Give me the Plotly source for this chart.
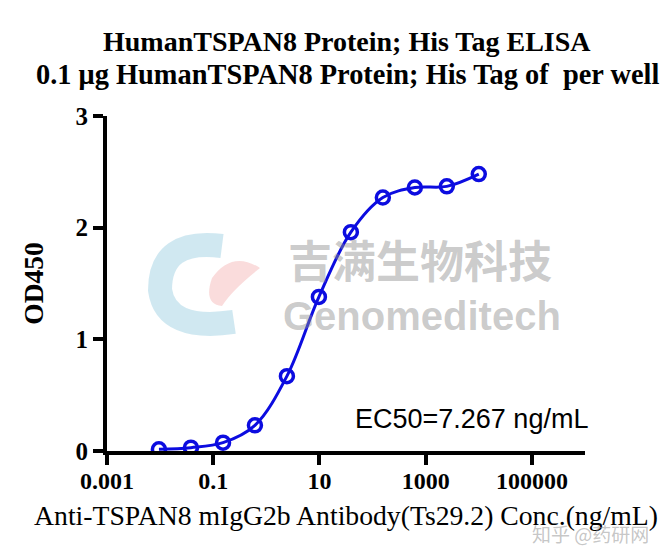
import plotly.graph_objects as go

# ---- data ----
conc_ng_ml = [0.0095, 0.038, 0.153, 0.61, 2.44, 9.77, 39.06, 156.25, 625, 2500, 10000]
od450 = [0.015, 0.03, 0.075, 0.23, 0.67, 1.38, 1.96, 2.27, 2.36, 2.37, 2.48]

x_tick_vals = [0.001, 0.1, 10, 1000, 100000]
x_tick_text = ["0.001", "0.1", "10", "1000", "100000"]
y_tick_vals = [0, 1, 2, 3]

title_line1 = "HumanTSPAN8 Protein; His Tag ELISA"
title_line2 = "0.1 μg HumanTSPAN8 Protein; His Tag of\u00a0 per well"
x_title = "Anti-TSPAN8 mIgG2b Antibody(Ts29.2) Conc.(ng/mL)"
y_title = "OD450"
ec50_text = "EC50=7.267 ng/mL"

SERIF = "Liberation Serif, Times New Roman, serif"
SANS = "Liberation Sans, Arial, sans-serif"
BLUE = "#0c0ce0"

fig = go.Figure()
fig.add_trace(go.Scatter(
    x=conc_ng_ml, y=od450,
    mode="lines+markers",
    line=dict(color=BLUE, width=3, shape="spline", smoothing=1.0),
    marker=dict(symbol="circle-open", size=13, color=BLUE, line=dict(color=BLUE, width=3.5)),
    showlegend=False,
))

L, R, T, B = 107, 83, 116, 105
W, H = 668, 556
pw, ph = W - L - R, H - T - B

def px(x):
    return (x - L) / pw

def py(y):
    return (H - B - y) / ph

annotations = [
    dict(text=title_line1, x=px(347), y=py(42), xref="paper", yref="paper",
         showarrow=False, xanchor="center", yanchor="middle",
         font=dict(family=SERIF, size=28, color="black", weight="bold")),
    dict(text=title_line2, x=px(347), y=py(75), xref="paper", yref="paper",
         showarrow=False, xanchor="center", yanchor="middle",
         font=dict(family=SERIF, size=28.4, color="black", weight="bold")),
    dict(text=ec50_text, x=px(471), y=py(419), xref="paper", yref="paper",
         showarrow=False, xanchor="center", yanchor="middle",
         font=dict(family=SANS, size=27, color="black")),
    # watermark
    dict(text="吉满生物科技", x=px(420), y=py(259), xref="paper", yref="paper",
         showarrow=False, xanchor="center", yanchor="middle",
         font=dict(family="Noto Sans CJK SC", size=44, color="rgba(140,140,140,0.45)", weight="bold")),
    dict(text="Genomeditech", x=px(422), y=py(316), xref="paper", yref="paper",
         showarrow=False, xanchor="center", yanchor="middle",
         font=dict(family=SANS, size=40, color="rgba(140,140,140,0.45)", weight="bold")),
    dict(text="知乎 @药研网", x=px(590), y=py(533), xref="paper", yref="paper",
         showarrow=False, xanchor="center", yanchor="middle",
         font=dict(family="Noto Sans CJK SC", size=19, color="rgba(150,150,150,0.55)")),
]

def path_px(points_cmds):
    out = []
    for item in points_cmds:
        if isinstance(item, str):
            out.append(item)
        else:
            out.append(f"{px(item[0]):.4f},{py(item[1]):.4f}")
    return " ".join(out)

shapes = [
    # faint logo: blue swirl
    dict(type="path", xref="paper", yref="paper", layer="below",
         path=path_px(["M", (222, 246), "Q", (160, 238), (160, 290), "Q", (166, 332), (234, 322)]),
         line=dict(color="rgba(150,205,225,0.45)", width=24)),
    # faint logo: pink blob
    dict(type="path", xref="paper", yref="paper", layer="below",
         path=path_px(["M", (260, 268), "Q", (232, 250), (212, 278), "Q", (203, 304), (222, 306),
                       "Q", (232, 290), (260, 268), "Z"]),
         fillcolor="rgba(240,150,150,0.33)", line=dict(width=0)),
]

fig.update_layout(
    width=W, height=H,
    margin=dict(l=L, r=R, t=T, b=B, pad=0),
    paper_bgcolor="white", plot_bgcolor="white",
    annotations=annotations, shapes=shapes,
    xaxis=dict(
        type="log", range=[-3, 6],
        tickvals=x_tick_vals, ticktext=x_tick_text,
        showgrid=False, zeroline=False,
        showline=True, linecolor="black", linewidth=4,
        ticks="outside", ticklen=10, tickwidth=4, tickcolor="black",
        ticklabelstandoff=-5,
        tickfont=dict(family=SERIF, size=24, color="black", weight="bold"),
        title=dict(text=x_title, standoff=14,
                   font=dict(family=SERIF, size=27.7, color="black")),
    ),
    yaxis=dict(
        range=[0, 3], tickvals=y_tick_vals,
        showgrid=False, zeroline=False,
        showline=True, linecolor="black", linewidth=4,
        ticks="outside", ticklen=10, tickwidth=4, tickcolor="black",
        tickfont=dict(family=SERIF, size=25, color="black", weight="bold"),
        title=dict(text=y_title, standoff=25,
                   font=dict(family=SERIF, size=27.5, color="black", weight="bold")),
    ),
)

fig.write_html("out.html", config={"displayModeBar": False},
               post_script="document.body.style.margin='0px';")
